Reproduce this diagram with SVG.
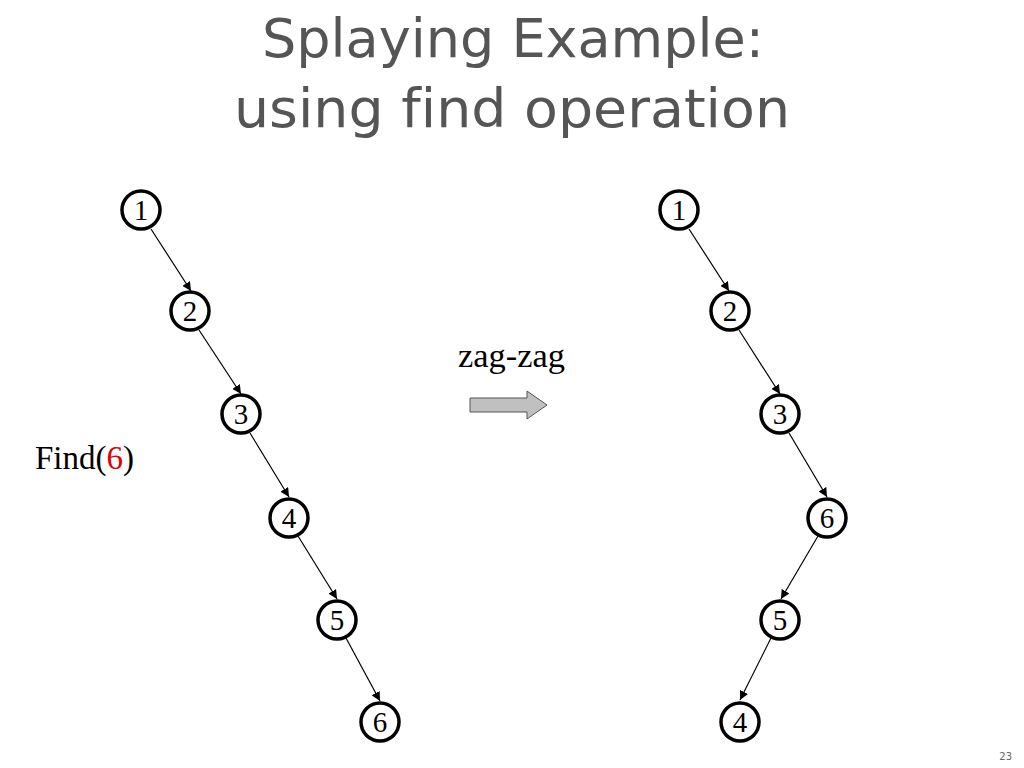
<svg xmlns="http://www.w3.org/2000/svg" width="1024" height="768" viewBox="0 0 1024 768">
<defs>
<style>
.title{font-family:"DejaVu Sans",sans-serif;font-size:54px;fill:#555;text-anchor:middle;font-variant-ligatures:none}
.node circle{fill:#fff;stroke:#000;stroke-width:3.5}
.node text{font-family:"Liberation Serif",serif;font-size:29px;fill:#000;text-anchor:middle}
.lbl{font-family:"Liberation Serif",serif;font-size:33px;fill:#000}
.edges line{stroke:#000;stroke-width:1.2;marker-end:url(#ah)}
</style>
<marker id="ah" viewBox="0 0 10 10" refX="10" refY="5" markerWidth="9" markerHeight="9" markerUnits="userSpaceOnUse" orient="auto">
<path d="M0,0 L10,5 L0,10 z" fill="#000"/>
</marker>
</defs>
<rect width="1024" height="768" fill="#fff"/>
<text class="title" x="513" y="57" textLength="502" lengthAdjust="spacingAndGlyphs">Splaying Example:</text>
<text class="title" x="512" y="127" textLength="556" lengthAdjust="spacingAndGlyphs">using find operation</text>

<g class="edges">
<line x1="151" y1="229" x2="191" y2="291"/>
<line x1="199" y1="330" x2="241" y2="394"/>
<line x1="250" y1="433" x2="289" y2="497"/>
<line x1="298" y1="536" x2="337" y2="599"/>
<line x1="346" y1="638" x2="380" y2="701"/>
<line x1="689" y1="229" x2="729" y2="291"/>
<line x1="739" y1="330" x2="780" y2="394"/>
<line x1="789" y1="433" x2="827" y2="497"/>
<line x1="818" y1="536" x2="781" y2="599"/>
<line x1="771" y1="638" x2="740" y2="700"/>
</g>

<g id="L1" class="node"><circle cx="141" cy="210" r="19"/><text x="141" y="220">1</text></g>
<g id="L2" class="node"><circle cx="190" cy="311" r="19"/><text x="190" y="321">2</text></g>
<g id="L3" class="node"><circle cx="241" cy="414" r="19"/><text x="241" y="424">3</text></g>
<g id="L4" class="node"><circle cx="289" cy="518" r="19"/><text x="289" y="528">4</text></g>
<g id="L5" class="node"><circle cx="337" cy="620" r="19"/><text x="337" y="630">5</text></g>
<g id="L6" class="node"><circle cx="380" cy="722" r="19"/><text x="380" y="732">6</text></g>

<g id="R1" class="node"><circle cx="679" cy="210" r="19"/><text x="679" y="220">1</text></g>
<g id="R2" class="node"><circle cx="730" cy="311" r="19"/><text x="730" y="321">2</text></g>
<g id="R3" class="node"><circle cx="780" cy="414" r="19"/><text x="780" y="424">3</text></g>
<g id="R6" class="node"><circle cx="827" cy="518" r="19"/><text x="827" y="528">6</text></g>
<g id="R5" class="node"><circle cx="780" cy="620" r="19"/><text x="780" y="630">5</text></g>
<g id="R4" class="node"><circle cx="740" cy="722" r="19"/><text x="740" y="732">4</text></g>

<text class="lbl" x="35" y="469">Find(<tspan fill="#e00000">6</tspan>)</text>
<text class="lbl" x="458" y="367" textLength="107" lengthAdjust="spacingAndGlyphs">zag-zag</text>
<path d="M470,398 H527 V391 L547,405 L527,419 V412 H470 Z" fill="#c0c0c0" stroke="#555" stroke-width="1"/>
<text x="1012" y="760" font-family="DejaVu Sans,sans-serif" font-size="10" fill="#666" text-anchor="end">23</text>
</svg>
